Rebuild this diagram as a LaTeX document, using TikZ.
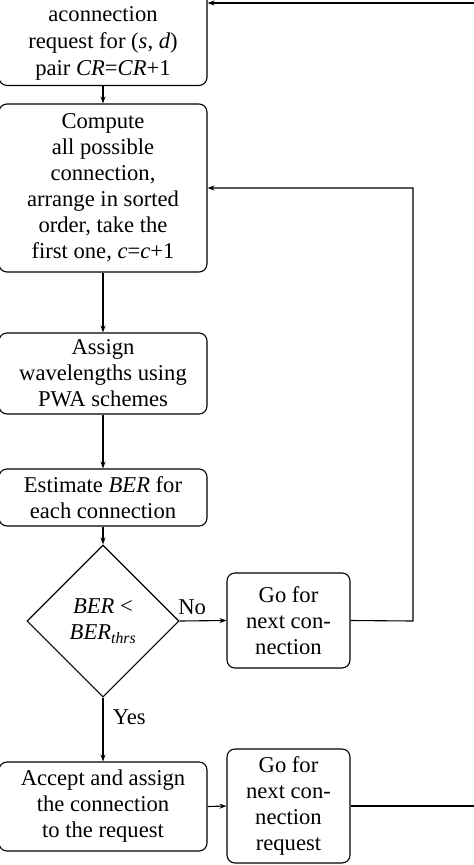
\documentclass[tikz,border=0pt]{standalone}
\usepackage{fontspec}
\setmainfont{Liberation Serif}
\usetikzlibrary{shapes.geometric,arrows.meta}
\begin{document}
\begin{tikzpicture}[x=1pt,y=-1pt,
  every node/.style={font=\fontsize{22.6}{26}\selectfont},
  box/.style={draw, line width=1.1pt, rounded corners=8pt, align=center, inner sep=0pt},
  dec/.style={draw, line width=1.1pt, diamond, aspect=1, inner sep=0pt, minimum width=152pt, minimum height=152pt, align=center},
  arr/.style={line width=1.1pt, -{Stealth[length=7pt,width=5pt]}},
  ln/.style={line width=1.1pt}]
\useasboundingbox (0,0) rectangle (474,865);
\node[box, anchor=south, minimum width=208pt, inner ysep=5pt] (b1) at (103,86) {\mbox{}\\\mbox{}\\\mbox{}\\aconnection\\[1pt]request for (\textit{s}, \textit{d})\\[1pt]pair \textit{CR}=\textit{CR}+1};
\node[box, minimum width=208pt, minimum height=168pt] (b2) at (103,188) {Compute\\all possible\\connection,\\arrange in sorted\\order, take the\\first one, \textit{c}=\textit{c}+1};
\node[box, minimum width=208pt, minimum height=81pt] (b3) at (103,373.5) {Assign\\wavelengths using\\PWA schemes};
\node[box, minimum width=208pt, minimum height=57pt] (b4) at (103,497.5) {Estimate \textit{BER} for\\each connection};
\node[dec] (d) at (103,621) {\textit{BER} <\\\textit{BER}\textsubscript{\textit{thrs}}};
\node[box, minimum width=123pt, minimum height=95pt] (b5) at (288.5,620.5) {Go for\\next con-\\nection};
\node[box, minimum width=208pt, minimum height=89pt] (b6) at (103,806.5) {Accept and assign\\the connection\\to the request};
\node[box, minimum width=123pt, minimum height=114pt] (b7) at (288.5,806) {Go for\\next con-\\nection\\request};
\coordinate (r1) at (413,621);
\coordinate (r2) at (413,188);
\coordinate (o1) at (490,806);
\coordinate (o2) at (490,3);
\draw[arr] (b1) -- (b2);
\draw[arr] (b2) -- (b3);
\draw[arr] (b3) -- (b4);
\draw[arr] (b4) -- (d);
\draw[arr] (d.east) -- node[pos=0.27, above=2pt] (no) {No} (b5.west);
\draw[arr] (b5.east) -- (r1) -- (r2) -- (b2.east);
\draw[arr] (d.south) -- node[pos=0.3, right=6pt] (yes) {Yes} (b6.north);
\draw[arr] (b6.east) -- (b7.west);
\draw[ln] (b7.east) -- (o1);
\draw[arr] (o2) -- (o2 -| b1.east);
\end{tikzpicture}
\end{document}
